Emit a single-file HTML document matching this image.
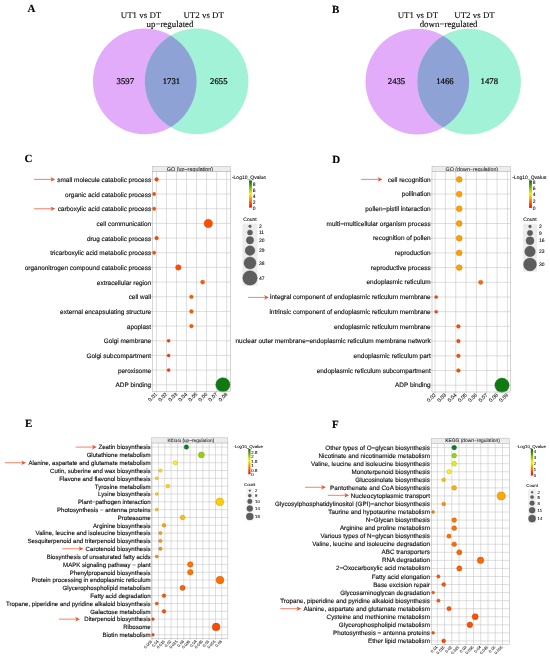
<!DOCTYPE html>
<html lang="en"><head><meta charset="utf-8"><title>Figure: Venn diagrams and GO / KEGG enrichment</title>
<style>html,body{margin:0;padding:0;background:#fff}svg{display:block}text{text-rendering:geometricPrecision}.a{font-family:"Liberation Sans", Arial, Helvetica, sans-serif;stroke:#000;stroke-width:1.3px}.t{font-family:"Liberation Serif", "Times New Roman", Times, serif;stroke:#000;stroke-width:1.2px}.n{stroke-width:2.4px}.s{stroke-width:.7px}</style></head><body>
<svg width="550" height="659" viewBox="0 0 550 659">
<rect width="550" height="659" fill="#fff"/>
<ellipse cx="144.75" cy="81.3" rx="51.8" ry="52.9" fill="#e2acfb"/>
<ellipse cx="196.6" cy="81.3" rx="51.8" ry="52.9" fill="#a1f2d6"/>
<clipPath id="c144"><ellipse cx="144.75" cy="81.3" rx="51.8" ry="52.9"/></clipPath>
<ellipse cx="196.6" cy="81.3" rx="51.8" ry="52.9" fill="#8fa2d6" clip-path="url(#c144)"/>
<text class="t" transform="translate(141.00 18.30) scale(.1)" font-size="89.0" text-anchor="middle" fill="#111">UT1 vs DT</text>
<text class="t" transform="translate(203.70 18.30) scale(.1)" font-size="89.0" text-anchor="middle" fill="#111">UT2 vs DT</text>
<text class="t" transform="translate(170.00 26.60) scale(.1)" font-size="89.0" text-anchor="middle" fill="#111">up−regulated</text>
<text class="t n" transform="translate(125.30 83.60) scale(.1)" font-size="87.0" text-anchor="middle" fill="#111">3597</text>
<text class="t n" transform="translate(171.40 83.60) scale(.1)" font-size="87.0" text-anchor="middle" fill="#111">1731</text>
<text class="t n" transform="translate(218.80 83.60) scale(.1)" font-size="87.0" text-anchor="middle" fill="#111">2655</text>
<ellipse cx="417.3" cy="81.6" rx="51.8" ry="52.9" fill="#e2acfb"/>
<ellipse cx="469.1" cy="81.6" rx="51.8" ry="52.9" fill="#a1f2d6"/>
<clipPath id="c417"><ellipse cx="417.3" cy="81.6" rx="51.8" ry="52.9"/></clipPath>
<ellipse cx="469.1" cy="81.6" rx="51.8" ry="52.9" fill="#8fa2d6" clip-path="url(#c417)"/>
<text class="t" transform="translate(417.90 18.30) scale(.1)" font-size="89.0" text-anchor="middle" fill="#111">UT1 vs DT</text>
<text class="t" transform="translate(474.50 18.30) scale(.1)" font-size="89.0" text-anchor="middle" fill="#111">UT2 vs DT</text>
<text class="t" transform="translate(448.60 26.60) scale(.1)" font-size="89.0" text-anchor="middle" fill="#111">down−regulated</text>
<text class="t n" transform="translate(396.50 83.90) scale(.1)" font-size="87.0" text-anchor="middle" fill="#111">2435</text>
<text class="t n" transform="translate(444.90 83.90) scale(.1)" font-size="87.0" text-anchor="middle" fill="#111">1466</text>
<text class="t n" transform="translate(489.30 83.90) scale(.1)" font-size="87.0" text-anchor="middle" fill="#111">1478</text>
<text class="t" transform="translate(27.40 11.80) scale(.1)" font-size="110.0" font-weight="bold">A</text>
<text class="t" transform="translate(331.90 12.50) scale(.1)" font-size="110.0" font-weight="bold">B</text>
<text class="t" transform="translate(24.60 162.40) scale(.1)" font-size="110.0" font-weight="bold">C</text>
<text class="t" transform="translate(332.30 163.00) scale(.1)" font-size="110.0" font-weight="bold">D</text>
<text class="t" transform="translate(25.10 427.00) scale(.1)" font-size="110.0" font-weight="bold">E</text>
<text class="t" transform="translate(332.10 427.70) scale(.1)" font-size="110.0" font-weight="bold">F</text>
<rect x="152.4" y="166.3" width="78.30" height="5.40" fill="#ececec" stroke="#b4b4b4" stroke-width="0.5"/>
<text class="a s" transform="translate(189.95 170.89) scale(.1)" font-size="54.0" text-anchor="middle" fill="#2a2a2a">GO (up−regulation)</text>
<rect x="152.4" y="171.7" width="78.30" height="219.60" fill="#fff"/>
<path d="M156.40 171.7V391.3M166.44 171.7V391.3M176.48 171.7V391.3M186.52 171.7V391.3M196.56 171.7V391.3M206.60 171.7V391.3M216.64 171.7V391.3M226.68 171.7V391.3M152.4 179.40H230.7M152.4 194.07H230.7M152.4 208.74H230.7M152.4 223.41H230.7M152.4 238.08H230.7M152.4 252.75H230.7M152.4 267.42H230.7M152.4 282.09H230.7M152.4 296.76H230.7M152.4 311.43H230.7M152.4 326.10H230.7M152.4 340.77H230.7M152.4 355.44H230.7M152.4 370.11H230.7M152.4 384.78H230.7" stroke="#bdbdbd" stroke-width="0.5" fill="none"/>
<path d="M156.40 391.3v1.2M166.44 391.3v1.2M176.48 391.3v1.2M186.52 391.3v1.2M196.56 391.3v1.2M206.60 391.3v1.2M216.64 391.3v1.2M226.68 391.3v1.2M152.4 179.40h-1.2M152.4 194.07h-1.2M152.4 208.74h-1.2M152.4 223.41h-1.2M152.4 238.08h-1.2M152.4 252.75h-1.2M152.4 267.42h-1.2M152.4 282.09h-1.2M152.4 296.76h-1.2M152.4 311.43h-1.2M152.4 326.10h-1.2M152.4 340.77h-1.2M152.4 355.44h-1.2M152.4 370.11h-1.2M152.4 384.78h-1.2" stroke="#8a8a8a" stroke-width="0.45" fill="none"/>
<circle cx="156.60" cy="179.40" r="1.85" fill="#fc4b00" stroke="#dd4200" stroke-width="0.4"/>
<circle cx="154.00" cy="194.07" r="1.75" fill="#fc4b00" stroke="#dd4200" stroke-width="0.4"/>
<circle cx="154.00" cy="208.74" r="1.75" fill="#fc4b00" stroke="#dd4200" stroke-width="0.4"/>
<circle cx="208.30" cy="223.41" r="4.25" fill="#fc4e00" stroke="#dd4400" stroke-width="0.4"/>
<circle cx="156.60" cy="238.08" r="1.85" fill="#fc4b00" stroke="#dd4200" stroke-width="0.4"/>
<circle cx="154.00" cy="252.75" r="1.75" fill="#fc4b00" stroke="#dd4200" stroke-width="0.4"/>
<circle cx="178.30" cy="267.42" r="2.75" fill="#fc4e00" stroke="#dd4400" stroke-width="0.4"/>
<circle cx="202.60" cy="282.09" r="2.05" fill="#fc5d04" stroke="#dd5103" stroke-width="0.4"/>
<circle cx="191.40" cy="296.76" r="1.85" fill="#fc5800" stroke="#dd4d00" stroke-width="0.4"/>
<circle cx="191.40" cy="311.43" r="1.85" fill="#fc5800" stroke="#dd4d00" stroke-width="0.4"/>
<circle cx="191.40" cy="326.10" r="1.85" fill="#fc5800" stroke="#dd4d00" stroke-width="0.4"/>
<circle cx="168.60" cy="340.77" r="1.55" fill="#fa3900" stroke="#dc3200" stroke-width="0.4"/>
<circle cx="168.60" cy="355.44" r="1.55" fill="#fa3900" stroke="#dc3200" stroke-width="0.4"/>
<circle cx="168.60" cy="370.11" r="1.55" fill="#fa3900" stroke="#dc3200" stroke-width="0.4"/>
<circle cx="222.90" cy="384.78" r="7.15" fill="#0f7a12" stroke="#0d6b0f" stroke-width="0.4"/>
<rect x="152.4" y="171.7" width="78.30" height="219.60" fill="none" stroke="#b4b4b4" stroke-width="0.55"/>
<text class="a" transform="translate(151.10 181.97) scale(.1)" font-size="64.2" text-anchor="end" fill="#111">small molecule catabolic process</text>
<text class="a" transform="translate(151.10 196.64) scale(.1)" font-size="64.2" text-anchor="end" fill="#111">organic acid catabolic process</text>
<text class="a" transform="translate(151.10 211.31) scale(.1)" font-size="64.2" text-anchor="end" fill="#111">carboxylic acid catabolic process</text>
<text class="a" transform="translate(151.10 225.98) scale(.1)" font-size="64.2" text-anchor="end" fill="#111">cell communication</text>
<text class="a" transform="translate(151.10 240.65) scale(.1)" font-size="64.2" text-anchor="end" fill="#111">drug catabolic process</text>
<text class="a" transform="translate(151.10 255.32) scale(.1)" font-size="64.2" text-anchor="end" fill="#111">tricarboxylic acid metabolic process</text>
<text class="a" transform="translate(151.10 269.99) scale(.1)" font-size="64.2" text-anchor="end" fill="#111">organonitrogen compound catabolic process</text>
<text class="a" transform="translate(151.10 284.66) scale(.1)" font-size="64.2" text-anchor="end" fill="#111">extracellular region</text>
<text class="a" transform="translate(151.10 299.33) scale(.1)" font-size="64.2" text-anchor="end" fill="#111">cell wall</text>
<text class="a" transform="translate(151.10 314.00) scale(.1)" font-size="64.2" text-anchor="end" fill="#111">external encapsulating structure</text>
<text class="a" transform="translate(151.10 328.67) scale(.1)" font-size="64.2" text-anchor="end" fill="#111">apoplast</text>
<text class="a" transform="translate(151.10 343.34) scale(.1)" font-size="64.2" text-anchor="end" fill="#111">Golgi membrane</text>
<text class="a" transform="translate(151.10 358.01) scale(.1)" font-size="64.2" text-anchor="end" fill="#111">Golgi subcompartment</text>
<text class="a" transform="translate(151.10 372.68) scale(.1)" font-size="64.2" text-anchor="end" fill="#111">peroxisome</text>
<text class="a" transform="translate(151.10 387.35) scale(.1)" font-size="64.2" text-anchor="end" fill="#111">ADP binding</text>
<text class="a s" transform="translate(157.64 394.62) rotate(-45) scale(.1)" font-size="53.0" text-anchor="end" fill="#262626">0.01</text>
<text class="a s" transform="translate(167.68 394.62) rotate(-45) scale(.1)" font-size="53.0" text-anchor="end" fill="#262626">0.02</text>
<text class="a s" transform="translate(177.72 394.62) rotate(-45) scale(.1)" font-size="53.0" text-anchor="end" fill="#262626">0.03</text>
<text class="a s" transform="translate(187.76 394.62) rotate(-45) scale(.1)" font-size="53.0" text-anchor="end" fill="#262626">0.04</text>
<text class="a s" transform="translate(197.80 394.62) rotate(-45) scale(.1)" font-size="53.0" text-anchor="end" fill="#262626">0.05</text>
<text class="a s" transform="translate(207.84 394.62) rotate(-45) scale(.1)" font-size="53.0" text-anchor="end" fill="#262626">0.06</text>
<text class="a s" transform="translate(217.88 394.62) rotate(-45) scale(.1)" font-size="53.0" text-anchor="end" fill="#262626">0.07</text>
<text class="a s" transform="translate(227.92 394.62) rotate(-45) scale(.1)" font-size="53.0" text-anchor="end" fill="#262626">0.08</text>
<text class="a s" transform="translate(231.90 178.95) scale(.1)" font-size="50.0">-Log10_Qvalue</text>
<linearGradient id="gC" x1="0" y1="0" x2="0" y2="1"><stop offset="0" stop-color="#006b00"/><stop offset="0.5" stop-color="#f4f400"/><stop offset="1" stop-color="#ff0000"/></linearGradient>
<rect x="249.1" y="180.4" width="2.80" height="27.20" fill="url(#gC)"/>
<text class="a s" transform="translate(252.80 185.85) scale(.1)" font-size="50.0">8</text>
<text class="a s" transform="translate(252.80 191.75) scale(.1)" font-size="50.0">6</text>
<text class="a s" transform="translate(252.80 197.75) scale(.1)" font-size="50.0">4</text>
<text class="a s" transform="translate(252.80 203.65) scale(.1)" font-size="50.0">2</text>
<text class="a s" transform="translate(252.80 209.75) scale(.1)" font-size="50.0">0</text>
<text class="a s" transform="translate(250.00 221.35) scale(.1)" font-size="50.0" text-anchor="middle">Count</text>
<rect x="242.4" y="223.6" width="15.10" height="62.10" fill="#ececec"/>
<circle cx="250.0" cy="226.3" r="1.35" fill="#5e5e5e" stroke="#3f3f3f" stroke-width="0.3"/>
<text class="a s" transform="translate(258.90 228.05) scale(.1)" font-size="50.0">2</text>
<circle cx="250.0" cy="232.5" r="2.6" fill="#5e5e5e" stroke="#3f3f3f" stroke-width="0.3"/>
<text class="a s" transform="translate(258.90 234.25) scale(.1)" font-size="50.0">11</text>
<circle cx="250.0" cy="240.3" r="3.7" fill="#5e5e5e" stroke="#3f3f3f" stroke-width="0.3"/>
<text class="a s" transform="translate(258.90 242.05) scale(.1)" font-size="50.0">20</text>
<circle cx="250.0" cy="250.6" r="4.9" fill="#5e5e5e" stroke="#3f3f3f" stroke-width="0.3"/>
<text class="a s" transform="translate(258.90 252.35) scale(.1)" font-size="50.0">29</text>
<circle cx="250.0" cy="263.0" r="6.1" fill="#5e5e5e" stroke="#3f3f3f" stroke-width="0.3"/>
<text class="a s" transform="translate(258.90 264.75) scale(.1)" font-size="50.0">38</text>
<circle cx="250.0" cy="278.0" r="7.3" fill="#5e5e5e" stroke="#3f3f3f" stroke-width="0.3"/>
<text class="a s" transform="translate(258.90 279.75) scale(.1)" font-size="50.0">47</text>
<path d="M34.00 179.40H52.80" stroke="#f0512c" stroke-width="0.72" fill="none"/>
<path d="M55.20 179.40L50.50 177.05L51.80 179.40L50.50 181.75Z" fill="#f0512c"/>
<path d="M34.00 208.74H52.80" stroke="#f0512c" stroke-width="0.72" fill="none"/>
<path d="M55.20 208.74L50.50 206.39L51.80 208.74L50.50 211.09Z" fill="#f0512c"/>
<rect x="432.0" y="166.2" width="78.70" height="5.30" fill="#ececec" stroke="#b4b4b4" stroke-width="0.5"/>
<text class="a s" transform="translate(471.85 170.72) scale(.1)" font-size="53.3" text-anchor="middle" fill="#2a2a2a">GO (down−regulation)</text>
<rect x="432.0" y="171.5" width="78.70" height="220.50" fill="#fff"/>
<path d="M435.10 171.5V392.0M445.43 171.5V392.0M455.76 171.5V392.0M466.09 171.5V392.0M476.42 171.5V392.0M486.75 171.5V392.0M497.08 171.5V392.0M507.41 171.5V392.0M432.0 179.40H510.7M432.0 194.10H510.7M432.0 208.80H510.7M432.0 223.50H510.7M432.0 238.20H510.7M432.0 252.90H510.7M432.0 267.60H510.7M432.0 282.30H510.7M432.0 297.00H510.7M432.0 311.70H510.7M432.0 326.40H510.7M432.0 341.10H510.7M432.0 355.80H510.7M432.0 370.50H510.7M432.0 385.20H510.7" stroke="#bdbdbd" stroke-width="0.5" fill="none"/>
<path d="M435.10 392.0v1.2M445.43 392.0v1.2M455.76 392.0v1.2M466.09 392.0v1.2M476.42 392.0v1.2M486.75 392.0v1.2M497.08 392.0v1.2M507.41 392.0v1.2M432.0 179.40h-1.2M432.0 194.10h-1.2M432.0 208.80h-1.2M432.0 223.50h-1.2M432.0 238.20h-1.2M432.0 252.90h-1.2M432.0 267.60h-1.2M432.0 282.30h-1.2M432.0 297.00h-1.2M432.0 311.70h-1.2M432.0 326.40h-1.2M432.0 341.10h-1.2M432.0 355.80h-1.2M432.0 370.50h-1.2M432.0 385.20h-1.2" stroke="#8a8a8a" stroke-width="0.45" fill="none"/>
<circle cx="459.20" cy="179.40" r="2.95" fill="#fe9f04" stroke="#d08203" stroke-width="0.4"/>
<circle cx="459.20" cy="194.10" r="2.95" fill="#fe9f04" stroke="#d08203" stroke-width="0.4"/>
<circle cx="459.20" cy="208.80" r="2.95" fill="#fe9f04" stroke="#d08203" stroke-width="0.4"/>
<circle cx="459.20" cy="223.50" r="2.95" fill="#fe9f04" stroke="#d08203" stroke-width="0.4"/>
<circle cx="459.20" cy="238.20" r="2.95" fill="#fe9f04" stroke="#d08203" stroke-width="0.4"/>
<circle cx="459.20" cy="252.90" r="2.95" fill="#fe9f04" stroke="#d08203" stroke-width="0.4"/>
<circle cx="459.20" cy="267.60" r="2.95" fill="#fe9f04" stroke="#d08203" stroke-width="0.4"/>
<circle cx="480.70" cy="282.30" r="2.15" fill="#fc6507" stroke="#ce5205" stroke-width="0.4"/>
<circle cx="436.20" cy="297.00" r="1.55" fill="#fc4800" stroke="#ce3b00" stroke-width="0.4"/>
<circle cx="436.20" cy="311.70" r="1.55" fill="#fc4800" stroke="#ce3b00" stroke-width="0.4"/>
<circle cx="458.40" cy="326.40" r="1.85" fill="#fc4e00" stroke="#ce3f00" stroke-width="0.4"/>
<circle cx="458.40" cy="341.10" r="1.85" fill="#fc4e00" stroke="#ce3f00" stroke-width="0.4"/>
<circle cx="458.40" cy="355.80" r="1.85" fill="#fc4e00" stroke="#ce3f00" stroke-width="0.4"/>
<circle cx="458.40" cy="370.50" r="1.85" fill="#fc4e00" stroke="#ce3f00" stroke-width="0.4"/>
<circle cx="502.00" cy="385.20" r="7.15" fill="#0f7a12" stroke="#0c640e" stroke-width="0.4"/>
<rect x="432.0" y="171.5" width="78.70" height="220.50" fill="none" stroke="#b4b4b4" stroke-width="0.55"/>
<text class="a" transform="translate(430.70 181.59) scale(.1)" font-size="64.5" text-anchor="end" fill="#111">cell recognition</text>
<text class="a" transform="translate(430.70 196.29) scale(.1)" font-size="64.5" text-anchor="end" fill="#111">pollination</text>
<text class="a" transform="translate(430.70 210.99) scale(.1)" font-size="64.5" text-anchor="end" fill="#111">pollen−pistil interaction</text>
<text class="a" transform="translate(430.70 225.69) scale(.1)" font-size="64.5" text-anchor="end" fill="#111">multi−multicellular organism process</text>
<text class="a" transform="translate(430.70 240.39) scale(.1)" font-size="64.5" text-anchor="end" fill="#111">recognition of pollen</text>
<text class="a" transform="translate(430.70 255.09) scale(.1)" font-size="64.5" text-anchor="end" fill="#111">reproduction</text>
<text class="a" transform="translate(430.70 269.79) scale(.1)" font-size="64.5" text-anchor="end" fill="#111">reproductive process</text>
<text class="a" transform="translate(430.70 284.49) scale(.1)" font-size="64.5" text-anchor="end" fill="#111">endoplasmic reticulum</text>
<text class="a" transform="translate(430.70 299.19) scale(.1)" font-size="64.5" text-anchor="end" fill="#111">integral component of endoplasmic reticulum membrane</text>
<text class="a" transform="translate(430.70 313.89) scale(.1)" font-size="64.5" text-anchor="end" fill="#111">intrinsic component of endoplasmic reticulum membrane</text>
<text class="a" transform="translate(430.70 328.59) scale(.1)" font-size="64.5" text-anchor="end" fill="#111">endoplasmic reticulum membrane</text>
<text class="a" transform="translate(430.70 343.29) scale(.1)" font-size="64.5" text-anchor="end" fill="#111">nuclear outer membrane−endoplasmic reticulum membrane network</text>
<text class="a" transform="translate(430.70 357.99) scale(.1)" font-size="64.5" text-anchor="end" fill="#111">endoplasmic reticulum part</text>
<text class="a" transform="translate(430.70 372.69) scale(.1)" font-size="64.5" text-anchor="end" fill="#111">endoplasmic reticulum subcompartment</text>
<text class="a" transform="translate(430.70 387.39) scale(.1)" font-size="64.5" text-anchor="end" fill="#111">ADP binding</text>
<text class="a s" transform="translate(436.34 395.32) rotate(-45) scale(.1)" font-size="53.0" text-anchor="end" fill="#262626">0.02</text>
<text class="a s" transform="translate(446.67 395.32) rotate(-45) scale(.1)" font-size="53.0" text-anchor="end" fill="#262626">0.03</text>
<text class="a s" transform="translate(457.00 395.32) rotate(-45) scale(.1)" font-size="53.0" text-anchor="end" fill="#262626">0.04</text>
<text class="a s" transform="translate(467.33 395.32) rotate(-45) scale(.1)" font-size="53.0" text-anchor="end" fill="#262626">0.05</text>
<text class="a s" transform="translate(477.66 395.32) rotate(-45) scale(.1)" font-size="53.0" text-anchor="end" fill="#262626">0.06</text>
<text class="a s" transform="translate(487.99 395.32) rotate(-45) scale(.1)" font-size="53.0" text-anchor="end" fill="#262626">0.07</text>
<text class="a s" transform="translate(498.32 395.32) rotate(-45) scale(.1)" font-size="53.0" text-anchor="end" fill="#262626">0.08</text>
<text class="a s" transform="translate(508.65 395.32) rotate(-45) scale(.1)" font-size="53.0" text-anchor="end" fill="#262626">0.09</text>
<text class="a s" transform="translate(512.30 179.05) scale(.1)" font-size="50.0">-Log10_Qvalue</text>
<linearGradient id="gD" x1="0" y1="0" x2="0" y2="1"><stop offset="0" stop-color="#006b00"/><stop offset="0.5" stop-color="#f4f400"/><stop offset="1" stop-color="#ff0000"/></linearGradient>
<rect x="529.1" y="180.4" width="2.80" height="27.50" fill="url(#gD)"/>
<text class="a s" transform="translate(532.80 183.55) scale(.1)" font-size="50.0">8</text>
<text class="a s" transform="translate(532.80 189.85) scale(.1)" font-size="50.0">6</text>
<text class="a s" transform="translate(532.80 196.35) scale(.1)" font-size="50.0">4</text>
<text class="a s" transform="translate(532.80 203.15) scale(.1)" font-size="50.0">2</text>
<text class="a s" transform="translate(532.80 209.65) scale(.1)" font-size="50.0">0</text>
<text class="a s" transform="translate(530.00 221.45) scale(.1)" font-size="50.0" text-anchor="middle">Count</text>
<rect x="523.1" y="223.7" width="13.90" height="48.00" fill="#ececec"/>
<circle cx="530.0" cy="226.5" r="1.4" fill="#5e5e5e" stroke="#3f3f3f" stroke-width="0.3"/>
<text class="a s" transform="translate(538.90 228.25) scale(.1)" font-size="50.0">2</text>
<circle cx="530.0" cy="233.0" r="2.7" fill="#5e5e5e" stroke="#3f3f3f" stroke-width="0.3"/>
<text class="a s" transform="translate(538.90 234.75) scale(.1)" font-size="50.0">9</text>
<circle cx="530.0" cy="240.7" r="4.0" fill="#5e5e5e" stroke="#3f3f3f" stroke-width="0.3"/>
<text class="a s" transform="translate(538.90 242.45) scale(.1)" font-size="50.0">16</text>
<circle cx="530.0" cy="251.4" r="5.3" fill="#5e5e5e" stroke="#3f3f3f" stroke-width="0.3"/>
<text class="a s" transform="translate(538.90 253.15) scale(.1)" font-size="50.0">23</text>
<circle cx="530.0" cy="264.4" r="6.5" fill="#5e5e5e" stroke="#3f3f3f" stroke-width="0.3"/>
<text class="a s" transform="translate(538.90 266.15) scale(.1)" font-size="50.0">30</text>
<path d="M361.30 179.40H380.00" stroke="#f0512c" stroke-width="0.72" fill="none"/>
<path d="M382.40 179.40L377.70 177.05L379.00 179.40L377.70 181.75Z" fill="#f0512c"/>
<path d="M248.00 297.40H266.40" stroke="#f0512c" stroke-width="0.72" fill="none"/>
<path d="M268.80 297.40L264.10 295.05L265.40 297.40L264.10 299.75Z" fill="#f0512c"/>
<rect x="151.5" y="437.8" width="76.30" height="5.30" fill="#ececec" stroke="#b4b4b4" stroke-width="0.5"/>
<text class="a s" transform="translate(190.85 442.10) scale(.1)" font-size="47.2" text-anchor="middle" fill="#2a2a2a">KEGG (up−regulation)</text>
<rect x="151.5" y="443.1" width="76.30" height="195.50" fill="#fff"/>
<path d="M152.10 443.1V638.6M158.44 443.1V638.6M164.77 443.1V638.6M171.10 443.1V638.6M177.44 443.1V638.6M183.78 443.1V638.6M190.11 443.1V638.6M196.44 443.1V638.6M202.78 443.1V638.6M209.12 443.1V638.6M215.45 443.1V638.6M221.78 443.1V638.6M151.5 447.10H227.8M151.5 454.92H227.8M151.5 462.74H227.8M151.5 470.56H227.8M151.5 478.38H227.8M151.5 486.20H227.8M151.5 494.02H227.8M151.5 501.84H227.8M151.5 509.66H227.8M151.5 517.48H227.8M151.5 525.30H227.8M151.5 533.12H227.8M151.5 540.94H227.8M151.5 548.76H227.8M151.5 556.58H227.8M151.5 564.40H227.8M151.5 572.22H227.8M151.5 580.04H227.8M151.5 587.86H227.8M151.5 595.68H227.8M151.5 603.50H227.8M151.5 611.32H227.8M151.5 619.14H227.8M151.5 626.96H227.8M151.5 634.78H227.8" stroke="#bdbdbd" stroke-width="0.5" fill="none"/>
<path d="M152.10 638.6v1.2M158.44 638.6v1.2M164.77 638.6v1.2M171.10 638.6v1.2M177.44 638.6v1.2M183.78 638.6v1.2M190.11 638.6v1.2M196.44 638.6v1.2M202.78 638.6v1.2M209.12 638.6v1.2M215.45 638.6v1.2M221.78 638.6v1.2M151.5 447.10h-1.2M151.5 454.92h-1.2M151.5 462.74h-1.2M151.5 470.56h-1.2M151.5 478.38h-1.2M151.5 486.20h-1.2M151.5 494.02h-1.2M151.5 501.84h-1.2M151.5 509.66h-1.2M151.5 517.48h-1.2M151.5 525.30h-1.2M151.5 533.12h-1.2M151.5 540.94h-1.2M151.5 548.76h-1.2M151.5 556.58h-1.2M151.5 564.40h-1.2M151.5 572.22h-1.2M151.5 580.04h-1.2M151.5 587.86h-1.2M151.5 595.68h-1.2M151.5 603.50h-1.2M151.5 611.32h-1.2M151.5 619.14h-1.2M151.5 626.96h-1.2M151.5 634.78h-1.2" stroke="#8a8a8a" stroke-width="0.45" fill="none"/>
<circle cx="186.40" cy="447.10" r="2.25" fill="#0c7d22" stroke="#085517" stroke-width="0.4"/>
<circle cx="201.40" cy="454.92" r="2.95" fill="#96d402" stroke="#669001" stroke-width="0.4"/>
<circle cx="175.30" cy="462.74" r="2.05" fill="#fff406" stroke="#ada504" stroke-width="0.4"/>
<circle cx="160.40" cy="470.56" r="1.65" fill="#ffe201" stroke="#ad9900" stroke-width="0.4"/>
<circle cx="156.80" cy="478.38" r="1.45" fill="#ffda01" stroke="#ad9400" stroke-width="0.4"/>
<circle cx="167.90" cy="486.20" r="1.85" fill="#ffdc01" stroke="#ad9500" stroke-width="0.4"/>
<circle cx="156.80" cy="494.02" r="1.45" fill="#ffd501" stroke="#ad9000" stroke-width="0.4"/>
<circle cx="219.80" cy="501.84" r="3.85" fill="#ffcf00" stroke="#ad8c00" stroke-width="0.4"/>
<circle cx="156.80" cy="509.66" r="1.45" fill="#ffc504" stroke="#ad8502" stroke-width="0.4"/>
<circle cx="182.60" cy="517.48" r="2.35" fill="#ffc004" stroke="#ad8202" stroke-width="0.4"/>
<circle cx="164.00" cy="525.30" r="1.85" fill="#ffa504" stroke="#ad7002" stroke-width="0.4"/>
<circle cx="160.40" cy="533.12" r="1.65" fill="#ff9c04" stroke="#ad6a02" stroke-width="0.4"/>
<circle cx="160.40" cy="540.94" r="1.65" fill="#ff9804" stroke="#ad6702" stroke-width="0.4"/>
<circle cx="160.40" cy="548.76" r="1.65" fill="#ff9104" stroke="#ad6202" stroke-width="0.4"/>
<circle cx="156.80" cy="556.58" r="1.45" fill="#ff8304" stroke="#ad5902" stroke-width="0.4"/>
<circle cx="190.30" cy="564.40" r="2.75" fill="#ff7401" stroke="#ad4e00" stroke-width="0.4"/>
<circle cx="190.30" cy="572.22" r="2.75" fill="#ff7401" stroke="#ad4e00" stroke-width="0.4"/>
<circle cx="220.00" cy="580.04" r="3.85" fill="#ff6e00" stroke="#ad4a00" stroke-width="0.4"/>
<circle cx="182.60" cy="587.86" r="2.55" fill="#fe6100" stroke="#ac4100" stroke-width="0.4"/>
<circle cx="164.00" cy="595.68" r="1.85" fill="#fe5a00" stroke="#ac3d00" stroke-width="0.4"/>
<circle cx="156.80" cy="603.50" r="1.55" fill="#fe5600" stroke="#ac3a00" stroke-width="0.4"/>
<circle cx="164.00" cy="611.32" r="1.85" fill="#fe5300" stroke="#ac3800" stroke-width="0.4"/>
<circle cx="152.90" cy="619.14" r="1.35" fill="#fd4700" stroke="#ac3000" stroke-width="0.4"/>
<circle cx="216.10" cy="626.96" r="3.85" fill="#fd4a00" stroke="#ac3200" stroke-width="0.4"/>
<circle cx="152.90" cy="634.78" r="1.35" fill="#fd4200" stroke="#ac2c00" stroke-width="0.4"/>
<rect x="151.5" y="443.1" width="76.30" height="195.50" fill="none" stroke="#b4b4b4" stroke-width="0.55"/>
<text class="a" transform="translate(150.60 449.41) scale(.1)" font-size="60.9" text-anchor="end" fill="#111">Zeatin biosynthesis</text>
<text class="a" transform="translate(150.60 457.23) scale(.1)" font-size="60.9" text-anchor="end" fill="#111">Glutathione metabolism</text>
<text class="a" transform="translate(150.60 465.05) scale(.1)" font-size="60.9" text-anchor="end" fill="#111">Alanine, aspartate and glutamate metabolism</text>
<text class="a" transform="translate(150.60 472.87) scale(.1)" font-size="60.9" text-anchor="end" fill="#111">Cutin, suberine and wax biosynthesis</text>
<text class="a" transform="translate(150.60 480.69) scale(.1)" font-size="60.9" text-anchor="end" fill="#111">Flavone and flavonol biosynthesis</text>
<text class="a" transform="translate(150.60 488.51) scale(.1)" font-size="60.9" text-anchor="end" fill="#111">Tyrosine metabolism</text>
<text class="a" transform="translate(150.60 496.33) scale(.1)" font-size="60.9" text-anchor="end" fill="#111">Lysine biosynthesis</text>
<text class="a" transform="translate(150.60 504.15) scale(.1)" font-size="60.9" text-anchor="end" fill="#111">Plant−pathogen interaction</text>
<text class="a" transform="translate(150.60 511.97) scale(.1)" font-size="60.9" text-anchor="end" fill="#111">Photosynthesis − antenna proteins</text>
<text class="a" transform="translate(150.60 519.79) scale(.1)" font-size="60.9" text-anchor="end" fill="#111">Proteasome</text>
<text class="a" transform="translate(150.60 527.61) scale(.1)" font-size="60.9" text-anchor="end" fill="#111">Arginine biosynthesis</text>
<text class="a" transform="translate(150.60 535.43) scale(.1)" font-size="60.9" text-anchor="end" fill="#111">Valine, leucine and isoleucine biosynthesis</text>
<text class="a" transform="translate(150.60 543.25) scale(.1)" font-size="60.9" text-anchor="end" fill="#111">Sesquiterpenoid and triterpenoid biosynthesis</text>
<text class="a" transform="translate(150.60 551.07) scale(.1)" font-size="60.9" text-anchor="end" fill="#111">Carotenoid biosynthesis</text>
<text class="a" transform="translate(150.60 558.89) scale(.1)" font-size="60.9" text-anchor="end" fill="#111">Biosynthesis of unsaturated fatty acids</text>
<text class="a" transform="translate(150.60 566.71) scale(.1)" font-size="60.9" text-anchor="end" fill="#111">MAPK signaling pathway − plant</text>
<text class="a" transform="translate(150.60 574.53) scale(.1)" font-size="60.9" text-anchor="end" fill="#111">Phenylpropanoid biosynthesis</text>
<text class="a" transform="translate(150.60 582.35) scale(.1)" font-size="60.9" text-anchor="end" fill="#111">Protein processing in endoplasmic reticulum</text>
<text class="a" transform="translate(150.60 590.17) scale(.1)" font-size="60.9" text-anchor="end" fill="#111">Glycerophospholipid metabolism</text>
<text class="a" transform="translate(150.60 597.99) scale(.1)" font-size="60.9" text-anchor="end" fill="#111">Fatty acid degradation</text>
<text class="a" transform="translate(150.60 605.81) scale(.1)" font-size="60.9" text-anchor="end" fill="#111">Tropane, piperidine and pyridine alkaloid biosynthesis</text>
<text class="a" transform="translate(150.60 613.63) scale(.1)" font-size="60.9" text-anchor="end" fill="#111">Galactose metabolism</text>
<text class="a" transform="translate(150.60 621.45) scale(.1)" font-size="60.9" text-anchor="end" fill="#111">Diterpenoid biosynthesis</text>
<text class="a" transform="translate(150.60 629.27) scale(.1)" font-size="60.9" text-anchor="end" fill="#111">Ribosome</text>
<text class="a" transform="translate(150.60 637.09) scale(.1)" font-size="60.9" text-anchor="end" fill="#111">Biotin metabolism</text>
<text class="a s" transform="translate(152.66 641.70) rotate(-45) scale(.1)" font-size="40.0" text-anchor="end" fill="#262626">0.005</text>
<text class="a s" transform="translate(159.00 641.70) rotate(-45) scale(.1)" font-size="40.0" text-anchor="end" fill="#262626">0.01</text>
<text class="a s" transform="translate(165.33 641.70) rotate(-45) scale(.1)" font-size="40.0" text-anchor="end" fill="#262626">0.015</text>
<text class="a s" transform="translate(171.66 641.70) rotate(-45) scale(.1)" font-size="40.0" text-anchor="end" fill="#262626">0.02</text>
<text class="a s" transform="translate(178.00 641.70) rotate(-45) scale(.1)" font-size="40.0" text-anchor="end" fill="#262626">0.025</text>
<text class="a s" transform="translate(184.34 641.70) rotate(-45) scale(.1)" font-size="40.0" text-anchor="end" fill="#262626">0.03</text>
<text class="a s" transform="translate(190.67 641.70) rotate(-45) scale(.1)" font-size="40.0" text-anchor="end" fill="#262626">0.035</text>
<text class="a s" transform="translate(197.00 641.70) rotate(-45) scale(.1)" font-size="40.0" text-anchor="end" fill="#262626">0.04</text>
<text class="a s" transform="translate(203.34 641.70) rotate(-45) scale(.1)" font-size="40.0" text-anchor="end" fill="#262626">0.045</text>
<text class="a s" transform="translate(209.68 641.70) rotate(-45) scale(.1)" font-size="40.0" text-anchor="end" fill="#262626">0.05</text>
<text class="a s" transform="translate(216.01 641.70) rotate(-45) scale(.1)" font-size="40.0" text-anchor="end" fill="#262626">0.055</text>
<text class="a s" transform="translate(222.34 641.70) rotate(-45) scale(.1)" font-size="40.0" text-anchor="end" fill="#262626">0.06</text>
<text class="a s" transform="translate(233.40 447.70) scale(.1)" font-size="43.0">-Log10_Qvalue</text>
<linearGradient id="gE" x1="0" y1="0" x2="0" y2="1"><stop offset="0" stop-color="#006b00"/><stop offset="0.45" stop-color="#f4f400"/><stop offset="1" stop-color="#ff0000"/></linearGradient>
<rect x="248.3" y="449.0" width="2.20" height="25.20" fill="url(#gE)"/>
<text class="a s" transform="translate(251.30 453.50) scale(.1)" font-size="43.0">2.5</text>
<text class="a s" transform="translate(251.30 457.90) scale(.1)" font-size="43.0">2</text>
<text class="a s" transform="translate(251.30 462.61) scale(.1)" font-size="43.0">1.5</text>
<text class="a s" transform="translate(251.30 466.90) scale(.1)" font-size="43.0">1</text>
<text class="a s" transform="translate(251.30 471.50) scale(.1)" font-size="43.0">0.5</text>
<text class="a s" transform="translate(251.30 475.70) scale(.1)" font-size="43.0">0</text>
<text class="a s" transform="translate(249.80 486.00) scale(.1)" font-size="43.0" text-anchor="middle">Count</text>
<rect x="246.3" y="487.7" width="7.30" height="33.20" fill="#f5f5f5"/>
<circle cx="249.8" cy="490.6" r="0.95" fill="#5e5e5e" stroke="#3f3f3f" stroke-width="0.3"/>
<text class="a s" transform="translate(255.10 492.11) scale(.1)" font-size="43.0">2</text>
<circle cx="249.8" cy="495.6" r="1.6" fill="#5e5e5e" stroke="#3f3f3f" stroke-width="0.3"/>
<text class="a s" transform="translate(255.10 497.11) scale(.1)" font-size="43.0">6</text>
<circle cx="249.8" cy="501.4" r="2.3" fill="#5e5e5e" stroke="#3f3f3f" stroke-width="0.3"/>
<text class="a s" transform="translate(255.10 502.90) scale(.1)" font-size="43.0">10</text>
<circle cx="249.8" cy="508.6" r="3.0" fill="#5e5e5e" stroke="#3f3f3f" stroke-width="0.3"/>
<text class="a s" transform="translate(255.10 510.11) scale(.1)" font-size="43.0">14</text>
<circle cx="249.8" cy="516.5" r="3.6" fill="#5e5e5e" stroke="#3f3f3f" stroke-width="0.3"/>
<text class="a s" transform="translate(255.10 518.00) scale(.1)" font-size="43.0">18</text>
<path d="M75.60 447.10H94.30" stroke="#f0512c" stroke-width="0.72" fill="none"/>
<path d="M96.70 447.10L92.00 444.75L93.30 447.10L92.00 449.45Z" fill="#f0512c"/>
<path d="M4.90 462.74H23.60" stroke="#f0512c" stroke-width="0.72" fill="none"/>
<path d="M26.00 462.74L21.30 460.39L22.60 462.74L21.30 465.09Z" fill="#f0512c"/>
<path d="M62.30 548.76H81.00" stroke="#f0512c" stroke-width="0.72" fill="none"/>
<path d="M83.40 548.76L78.70 546.41L80.00 548.76L78.70 551.11Z" fill="#f0512c"/>
<path d="M59.00 619.14H77.50" stroke="#f0512c" stroke-width="0.72" fill="none"/>
<path d="M79.90 619.14L75.20 616.79L76.50 619.14L75.20 621.49Z" fill="#f0512c"/>
<rect x="431.3" y="438.2" width="78.00" height="5.10" fill="#ececec" stroke="#b4b4b4" stroke-width="0.5"/>
<text class="a s" transform="translate(472.50 442.46) scale(.1)" font-size="48.8" text-anchor="middle" fill="#2a2a2a">KEGG (down−regulation)</text>
<rect x="431.3" y="443.3" width="78.00" height="201.00" fill="#fff"/>
<path d="M437.30 443.3V644.3M444.55 443.3V644.3M451.79 443.3V644.3M459.04 443.3V644.3M466.28 443.3V644.3M473.53 443.3V644.3M480.77 443.3V644.3M488.01 443.3V644.3M495.26 443.3V644.3M502.50 443.3V644.3M431.3 447.60H509.3M431.3 455.66H509.3M431.3 463.71H509.3M431.3 471.77H509.3M431.3 479.82H509.3M431.3 487.88H509.3M431.3 495.93H509.3M431.3 503.99H509.3M431.3 512.04H509.3M431.3 520.10H509.3M431.3 528.15H509.3M431.3 536.21H509.3M431.3 544.26H509.3M431.3 552.32H509.3M431.3 560.37H509.3M431.3 568.42H509.3M431.3 576.48H509.3M431.3 584.54H509.3M431.3 592.59H509.3M431.3 600.64H509.3M431.3 608.70H509.3M431.3 616.75H509.3M431.3 624.81H509.3M431.3 632.87H509.3M431.3 640.92H509.3" stroke="#bdbdbd" stroke-width="0.5" fill="none"/>
<path d="M437.30 644.3v1.2M444.55 644.3v1.2M451.79 644.3v1.2M459.04 644.3v1.2M466.28 644.3v1.2M473.53 644.3v1.2M480.77 644.3v1.2M488.01 644.3v1.2M495.26 644.3v1.2M502.50 644.3v1.2M431.3 447.60h-1.2M431.3 455.66h-1.2M431.3 463.71h-1.2M431.3 471.77h-1.2M431.3 479.82h-1.2M431.3 487.88h-1.2M431.3 495.93h-1.2M431.3 503.99h-1.2M431.3 512.04h-1.2M431.3 520.10h-1.2M431.3 528.15h-1.2M431.3 536.21h-1.2M431.3 544.26h-1.2M431.3 552.32h-1.2M431.3 560.37h-1.2M431.3 568.42h-1.2M431.3 576.48h-1.2M431.3 584.54h-1.2M431.3 592.59h-1.2M431.3 600.64h-1.2M431.3 608.70h-1.2M431.3 616.75h-1.2M431.3 624.81h-1.2M431.3 632.87h-1.2M431.3 640.92h-1.2" stroke="#8a8a8a" stroke-width="0.45" fill="none"/>
<circle cx="454.20" cy="447.60" r="2.35" fill="#0c7d22" stroke="#085517" stroke-width="0.4"/>
<circle cx="454.20" cy="455.66" r="2.35" fill="#9ad20b" stroke="#688e07" stroke-width="0.4"/>
<circle cx="454.20" cy="463.71" r="2.35" fill="#e1f603" stroke="#99a702" stroke-width="0.4"/>
<circle cx="449.00" cy="471.77" r="2.15" fill="#fff706" stroke="#ada704" stroke-width="0.4"/>
<circle cx="443.70" cy="479.82" r="1.85" fill="#ffc404" stroke="#ad8502" stroke-width="0.4"/>
<circle cx="454.20" cy="487.88" r="2.35" fill="#ffb204" stroke="#ad7902" stroke-width="0.4"/>
<circle cx="501.20" cy="495.93" r="4.05" fill="#ffa600" stroke="#ad7000" stroke-width="0.4"/>
<circle cx="443.70" cy="503.99" r="1.85" fill="#ff9104" stroke="#ad6202" stroke-width="0.4"/>
<circle cx="433.10" cy="512.04" r="1.45" fill="#ff7f04" stroke="#ad5602" stroke-width="0.4"/>
<circle cx="454.20" cy="520.10" r="2.35" fill="#ff7601" stroke="#ad5000" stroke-width="0.4"/>
<circle cx="454.20" cy="528.15" r="2.35" fill="#ff7101" stroke="#ad4c00" stroke-width="0.4"/>
<circle cx="449.00" cy="536.21" r="2.15" fill="#ff7101" stroke="#ad4c00" stroke-width="0.4"/>
<circle cx="454.20" cy="544.26" r="2.35" fill="#ff6d01" stroke="#ad4a00" stroke-width="0.4"/>
<circle cx="459.30" cy="552.32" r="2.55" fill="#fe6800" stroke="#ac4600" stroke-width="0.4"/>
<circle cx="480.50" cy="560.37" r="3.25" fill="#fe6700" stroke="#ac4600" stroke-width="0.4"/>
<circle cx="459.30" cy="568.42" r="2.55" fill="#fe6100" stroke="#ac4100" stroke-width="0.4"/>
<circle cx="438.40" cy="576.48" r="1.65" fill="#fe5a00" stroke="#ac3d00" stroke-width="0.4"/>
<circle cx="443.70" cy="584.54" r="1.95" fill="#fe5a00" stroke="#ac3d00" stroke-width="0.4"/>
<circle cx="433.10" cy="592.59" r="1.45" fill="#fe5600" stroke="#ac3a00" stroke-width="0.4"/>
<circle cx="438.40" cy="600.64" r="1.65" fill="#fe5600" stroke="#ac3a00" stroke-width="0.4"/>
<circle cx="449.00" cy="608.70" r="2.15" fill="#fe5300" stroke="#ac3800" stroke-width="0.4"/>
<circle cx="475.20" cy="616.75" r="3.05" fill="#fd5100" stroke="#ac3700" stroke-width="0.4"/>
<circle cx="469.90" cy="624.81" r="2.85" fill="#fd5100" stroke="#ac3700" stroke-width="0.4"/>
<circle cx="433.10" cy="632.87" r="1.45" fill="#fd4b00" stroke="#ac3300" stroke-width="0.4"/>
<circle cx="443.70" cy="640.92" r="1.95" fill="#fd4b00" stroke="#ac3300" stroke-width="0.4"/>
<rect x="431.3" y="443.3" width="78.00" height="201.00" fill="none" stroke="#b4b4b4" stroke-width="0.55"/>
<text class="a" transform="translate(429.90 449.62) scale(.1)" font-size="63.0" text-anchor="end" fill="#111">Other types of O−glycan biosynthesis</text>
<text class="a" transform="translate(429.90 457.67) scale(.1)" font-size="63.0" text-anchor="end" fill="#111">Nicotinate and nicotinamide metabolism</text>
<text class="a" transform="translate(429.90 465.73) scale(.1)" font-size="63.0" text-anchor="end" fill="#111">Valine, leucine and isoleucine biosynthesis</text>
<text class="a" transform="translate(429.90 473.78) scale(.1)" font-size="63.0" text-anchor="end" fill="#111">Monoterpenoid biosynthesis</text>
<text class="a" transform="translate(429.90 481.84) scale(.1)" font-size="63.0" text-anchor="end" fill="#111">Glucosinolate biosynthesis</text>
<text class="a" transform="translate(429.90 489.89) scale(.1)" font-size="63.0" text-anchor="end" fill="#111">Pantothenate and CoA biosynthesis</text>
<text class="a" transform="translate(429.90 497.95) scale(.1)" font-size="63.0" text-anchor="end" fill="#111">Nucleocytoplasmic transport</text>
<text class="a" transform="translate(429.90 506.00) scale(.1)" font-size="63.0" text-anchor="end" fill="#111">Glycosylphosphatidylinositol (GPI)−anchor biosynthesis</text>
<text class="a" transform="translate(429.90 514.06) scale(.1)" font-size="63.0" text-anchor="end" fill="#111">Taurine and hypotaurine metabolism</text>
<text class="a" transform="translate(429.90 522.11) scale(.1)" font-size="63.0" text-anchor="end" fill="#111">N−Glycan biosynthesis</text>
<text class="a" transform="translate(429.90 530.17) scale(.1)" font-size="63.0" text-anchor="end" fill="#111">Arginine and proline metabolism</text>
<text class="a" transform="translate(429.90 538.22) scale(.1)" font-size="63.0" text-anchor="end" fill="#111">Various types of N−glycan biosynthesis</text>
<text class="a" transform="translate(429.90 546.28) scale(.1)" font-size="63.0" text-anchor="end" fill="#111">Valine, leucine and isoleucine degradation</text>
<text class="a" transform="translate(429.90 554.33) scale(.1)" font-size="63.0" text-anchor="end" fill="#111">ABC transporters</text>
<text class="a" transform="translate(429.90 562.39) scale(.1)" font-size="63.0" text-anchor="end" fill="#111">RNA degradation</text>
<text class="a" transform="translate(429.90 570.44) scale(.1)" font-size="63.0" text-anchor="end" fill="#111">2−Oxocarboxylic acid metabolism</text>
<text class="a" transform="translate(429.90 578.50) scale(.1)" font-size="63.0" text-anchor="end" fill="#111">Fatty acid elongation</text>
<text class="a" transform="translate(429.90 586.55) scale(.1)" font-size="63.0" text-anchor="end" fill="#111">Base excision repair</text>
<text class="a" transform="translate(429.90 594.61) scale(.1)" font-size="63.0" text-anchor="end" fill="#111">Glycosaminoglycan degradation</text>
<text class="a" transform="translate(429.90 602.66) scale(.1)" font-size="63.0" text-anchor="end" fill="#111">Tropane, piperidine and pyridine alkaloid biosynthesis</text>
<text class="a" transform="translate(429.90 610.72) scale(.1)" font-size="63.0" text-anchor="end" fill="#111">Alanine, aspartate and glutamate metabolism</text>
<text class="a" transform="translate(429.90 618.77) scale(.1)" font-size="63.0" text-anchor="end" fill="#111">Cysteine and methionine metabolism</text>
<text class="a" transform="translate(429.90 626.83) scale(.1)" font-size="63.0" text-anchor="end" fill="#111">Glycerophospholipid metabolism</text>
<text class="a" transform="translate(429.90 634.88) scale(.1)" font-size="63.0" text-anchor="end" fill="#111">Photosynthesis − antenna proteins</text>
<text class="a" transform="translate(429.90 642.94) scale(.1)" font-size="63.0" text-anchor="end" fill="#111">Ether lipid metabolism</text>
<text class="a s" transform="translate(437.86 647.40) rotate(-45) scale(.1)" font-size="40.0" text-anchor="end" fill="#262626">0.01</text>
<text class="a s" transform="translate(445.11 647.40) rotate(-45) scale(.1)" font-size="40.0" text-anchor="end" fill="#262626">0.015</text>
<text class="a s" transform="translate(452.35 647.40) rotate(-45) scale(.1)" font-size="40.0" text-anchor="end" fill="#262626">0.02</text>
<text class="a s" transform="translate(459.60 647.40) rotate(-45) scale(.1)" font-size="40.0" text-anchor="end" fill="#262626">0.025</text>
<text class="a s" transform="translate(466.84 647.40) rotate(-45) scale(.1)" font-size="40.0" text-anchor="end" fill="#262626">0.03</text>
<text class="a s" transform="translate(474.09 647.40) rotate(-45) scale(.1)" font-size="40.0" text-anchor="end" fill="#262626">0.035</text>
<text class="a s" transform="translate(481.33 647.40) rotate(-45) scale(.1)" font-size="40.0" text-anchor="end" fill="#262626">0.04</text>
<text class="a s" transform="translate(488.57 647.40) rotate(-45) scale(.1)" font-size="40.0" text-anchor="end" fill="#262626">0.045</text>
<text class="a s" transform="translate(495.82 647.40) rotate(-45) scale(.1)" font-size="40.0" text-anchor="end" fill="#262626">0.05</text>
<text class="a s" transform="translate(503.06 647.40) rotate(-45) scale(.1)" font-size="40.0" text-anchor="end" fill="#262626">0.055</text>
<text class="a s" transform="translate(516.40 448.00) scale(.1)" font-size="43.0">-Log10_Qvalue</text>
<linearGradient id="gF" x1="0" y1="0" x2="0" y2="1"><stop offset="0" stop-color="#006b00"/><stop offset="0.5" stop-color="#f4f400"/><stop offset="1" stop-color="#ff0000"/></linearGradient>
<rect x="530.8" y="449.1" width="2.20" height="26.40" fill="url(#gF)"/>
<text class="a s" transform="translate(533.80 452.70) scale(.1)" font-size="43.0">4</text>
<text class="a s" transform="translate(533.80 458.90) scale(.1)" font-size="43.0">3</text>
<text class="a s" transform="translate(533.80 464.81) scale(.1)" font-size="43.0">2</text>
<text class="a s" transform="translate(533.80 470.70) scale(.1)" font-size="43.0">1</text>
<text class="a s" transform="translate(533.80 476.70) scale(.1)" font-size="43.0">0</text>
<text class="a s" transform="translate(532.10 487.11) scale(.1)" font-size="43.0" text-anchor="middle">Count</text>
<rect x="528.0" y="489.2" width="8.40" height="33.70" fill="#f0f0f0"/>
<circle cx="532.1" cy="492.3" r="1.05" fill="#5e5e5e" stroke="#3f3f3f" stroke-width="0.3"/>
<text class="a s" transform="translate(537.60 493.81) scale(.1)" font-size="43.0">2</text>
<circle cx="532.1" cy="497.1" r="1.7" fill="#5e5e5e" stroke="#3f3f3f" stroke-width="0.3"/>
<text class="a s" transform="translate(537.60 498.61) scale(.1)" font-size="43.0">5</text>
<circle cx="532.1" cy="503.2" r="2.4" fill="#5e5e5e" stroke="#3f3f3f" stroke-width="0.3"/>
<text class="a s" transform="translate(537.60 504.70) scale(.1)" font-size="43.0">8</text>
<circle cx="532.1" cy="510.3" r="3.0" fill="#5e5e5e" stroke="#3f3f3f" stroke-width="0.3"/>
<text class="a s" transform="translate(537.60 511.81) scale(.1)" font-size="43.0">11</text>
<circle cx="532.1" cy="518.6" r="3.6" fill="#5e5e5e" stroke="#3f3f3f" stroke-width="0.3"/>
<text class="a s" transform="translate(537.60 520.11) scale(.1)" font-size="43.0">14</text>
<path d="M304.90 487.27H323.50" stroke="#f0512c" stroke-width="0.72" fill="none"/>
<path d="M325.90 487.27L321.20 484.92L322.50 487.27L321.20 489.62Z" fill="#f0512c"/>
<path d="M327.80 495.33H346.60" stroke="#f0512c" stroke-width="0.72" fill="none"/>
<path d="M349.00 495.33L344.30 492.98L345.60 495.33L344.30 497.68Z" fill="#f0512c"/>
<path d="M280.20 608.70H298.80" stroke="#f0512c" stroke-width="0.72" fill="none"/>
<path d="M301.20 608.70L296.50 606.35L297.80 608.70L296.50 611.05Z" fill="#f0512c"/>
</svg></body></html>
